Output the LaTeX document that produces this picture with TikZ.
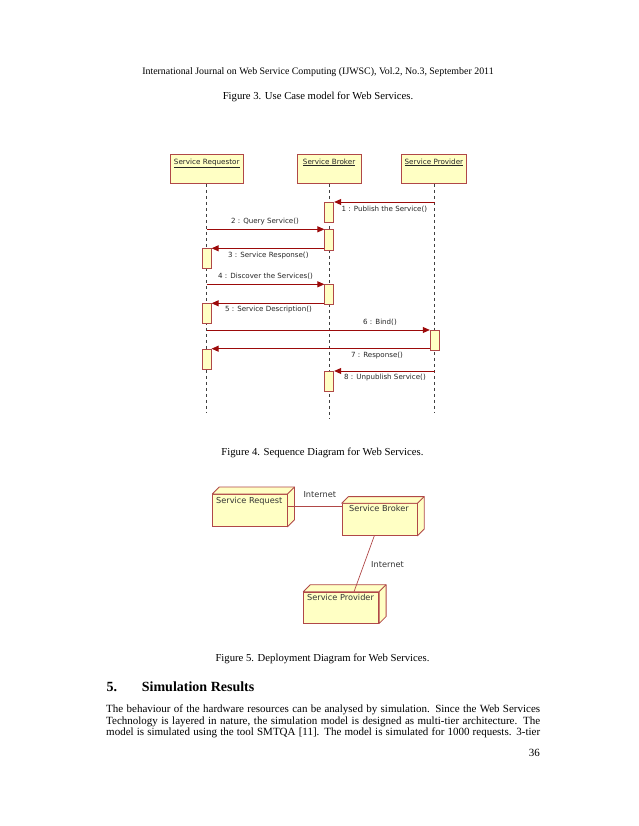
\documentclass[tikz,border=0pt]{standalone}
\usepackage{fontspec}
\setmainfont{Liberation Serif}
\newfontfamily\dgfont{DejaVu Sans}
\usetikzlibrary{arrows.meta,calc}
\definecolor{umlfill}{HTML}{FFFFC4}
\definecolor{umlborder}{HTML}{B04848}
\definecolor{msgred}{HTML}{9C0A0A}
\begin{document}
\begin{tikzpicture}[x=1pt,y=-1pt,
  head/.style={draw=umlborder,fill=umlfill,line width=0.8pt,minimum width=#1,minimum height=29pt,anchor=north west,inner sep=0pt},
  headtxt/.style={anchor=north,inner sep=0pt,yshift=-4.5pt,font=\dgfont\fontsize{7.2}{8}\selectfont,text=black!85},
  life/.style={draw=black!75,dash pattern=on 3pt off 3pt,line width=0.6pt},
  act/.style={draw=umlborder,fill=umlfill,line width=0.8pt,minimum width=9pt,minimum height=20pt,anchor=north,inner sep=0pt},
  msg/.style={draw=msgred,line width=0.8pt,-{Triangle[length=7pt,width=6pt]}},
  mlab/.style={inner sep=0pt,font=\dgfont\fontsize{7.1}{8}\selectfont,text=black!85},
  dnode/.style={draw=umlborder,fill=umlfill,line width=0.8pt,anchor=north west,inner sep=0pt},
  dtxt/.style={anchor=north west,inner sep=0pt,font=\dgfont\fontsize{8.2}{9}\selectfont,text=black!80},
  dlink/.style={draw=umlborder,line width=0.7pt},
  body/.style={inner sep=0pt,font=\fontsize{11}{13}\selectfont},
  figcap/.style={inner sep=0pt,font=\fontsize{10.7}{13}\selectfont}
]
\useasboundingbox (0,0) rectangle (638,826);
% header and captions
\node[inner sep=0pt,font=\fontsize{9.9}{12}\selectfont] (hdr) at (318,72) {International Journal on Web Service Computing (IJWSC), Vol.2, No.3, September 2011};
\node[figcap] (cap3) at (318,97) {Figure 3. Use Case model for Web Services.};
\node[figcap] (cap4) at (322.5,453) {Figure 4. Sequence Diagram for Web Services.};
\node[figcap] (cap5) at (322.5,659) {Figure 5. Deployment Diagram for Web Services.};
% sequence diagram heads
\node[head=72.7pt,label={[headtxt]north:\underline{Service Requestor}}] (req) at (170,154) {};
\node[head=64pt,label={[headtxt]north:\underline{Service Broker}}] (brk) at (296.7,154) {};
\node[head=65pt,label={[headtxt]north:\underline{Service Provider}}] (prv) at (401,154) {};
\coordinate (reqend) at (206.7,412);
\coordinate (brkend) at (329.3,418);
\coordinate (prvend) at (434.7,412);
\draw[life] (req.south -| reqend) -- (reqend);
\draw[life] (brk.south -| brkend) -- (brkend);
\draw[life] (prv.south -| prvend) -- (prvend);
% activations
\node[act] (b1) at (329.3,202) {};
\node[act,minimum height=21pt] (b2) at (329.3,229.3) {};
\node[act] (r3) at (206.7,248.3) {};
\node[act] (b4) at (329.3,284.3) {};
\node[act] (r5) at (206.7,303.3) {};
\node[act] (p6) at (434.7,330) {};
\node[act,minimum height=20.5pt] (r7) at (206.7,348.7) {};
\node[act] (b8) at (329.3,371) {};
% message origins on lifelines
\coordinate (m1) at (434.7,202);
\coordinate (m2) at (206.7,229.3);
\coordinate (m4) at (206.7,284.3);
\coordinate (m6) at (206.7,330);
\coordinate (m8) at (434.7,371);
\draw[msg] (m1) -- (b1.north east);
\draw[msg] (m2) -- (b2.north west);
\draw[msg] (b2.west |- r3.north) -- (r3.north east);
\draw[msg] (m4) -- (b4.north west);
\draw[msg] (b4.west |- r5.north) -- (r5.north east);
\draw[msg] (m6) -- (p6.north west);
\draw[msg] (p6.west |- r7.north) -- (r7.north east);
\draw[msg] (m8) -- (b8.north east);
% message labels
\node[mlab,anchor=west] (l1) at (341.5,209) {1 : Publish the Service()};
\node[mlab] (l2) at (265,221.5) {2 : Query Service()};
\node[mlab,anchor=west] (l3) at (228,255.7) {3 : Service Response()};
\node[mlab,anchor=west] (l4) at (218,276) {4 : Discover the Services()};
\node[mlab,anchor=west] (l5) at (225,310) {5 : Service Description()};
\node[mlab] (l6) at (380,322.7) {6 : Bind()};
\node[mlab] (l7) at (377,356) {7 : Response()};
\node[mlab,anchor=west] (l8) at (344,377.7) {8 : Unpublish Service()};
% deployment diagram
\node[dnode,minimum width=74.4pt,minimum height=32pt] (dreq) at (212.3,494) {};
\node[dnode,minimum width=75pt,minimum height=31.7pt] (dbrk) at (341.7,503.3) {};
\node[dnode,minimum width=75pt,minimum height=31pt] (dprv) at (303.3,591.7) {};
\foreach \n/\d in {dreq/7,dbrk/6.7,dprv/7}{
  \draw[umlborder,fill=umlfill,line width=0.8pt,line join=round]
    (\n.north west) -- ++(\d,-\d) -- ($(\n.north east)+(\d,-\d)$) -- ($(\n.south east)+(\d,-\d)$) -- (\n.south east) -- (\n.north east) -- cycle;
  \draw[umlborder,line width=0.8pt] (\n.north east) -- ++(\d,-\d);
}
\node[dtxt] (treq) at (216,497) {Service Request};
\node[dtxt] (tbrk) at (349,505.5) {Service Broker};
\node[dtxt] (tprv) at (307,594) {Service Provider};
\draw[dlink] (dreq.east |- 0,506.7) -- (dbrk.west |- 0,506.7);
\draw[dlink] (dbrk.south -| 374.3,0) -- (dprv.north -| 354,0);
\node[dtxt,anchor=west] (int1) at (303.3,495) {Internet};
\node[dtxt,anchor=west] (int2) at (371,565) {Internet};
% section heading and text
\node[inner sep=0pt,anchor=west,font=\fontsize{14}{16}\bfseries\selectfont] (secn) at (106.5,687) {5.};
\node[inner sep=0pt,anchor=west,font=\fontsize{14}{16}\bfseries\selectfont] (sect) at (141.7,687) {Simulation Results};
\node[body,anchor=west] (p1) at (106,710) {\makebox[434pt][s]{The behaviour of the hardware resources can be analysed by simulation. Since the Web Services}};
\node[body,anchor=west] (p2) at (106,721.5) {\makebox[434pt][s]{Technology is layered in nature, the simulation model is designed as multi-tier architecture. The}};
\node[body,anchor=west] (p3) at (106,733) {\makebox[434pt][s]{model is simulated using the tool SMTQA [11]. The model is simulated for 1000 requests. 3-tier}};
\node[body,anchor=east] (pg) at (540,753) {36};
\end{tikzpicture}
\end{document}
